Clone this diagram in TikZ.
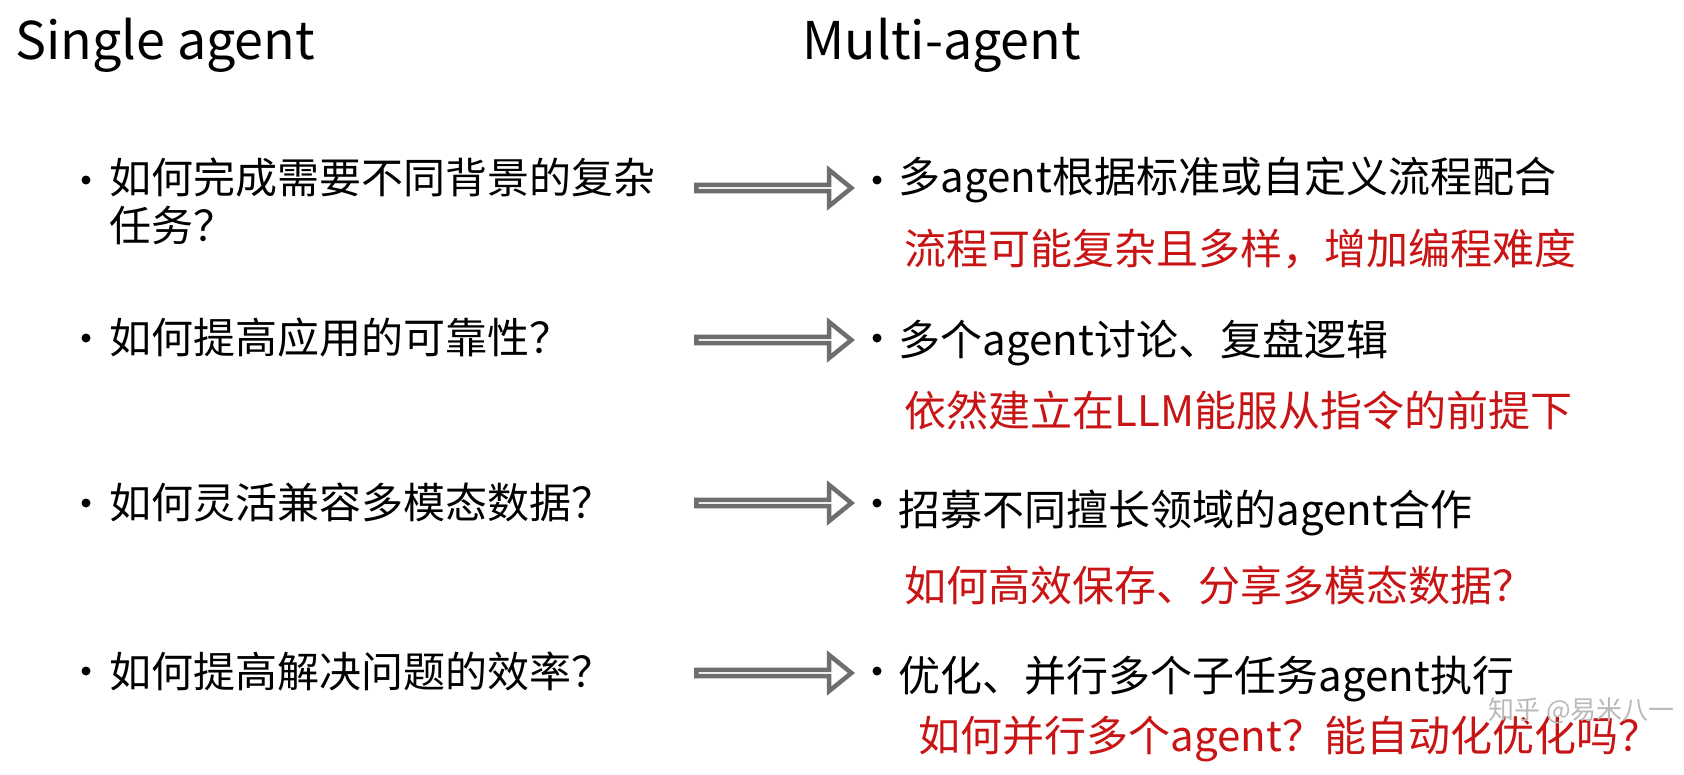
\documentclass[tikz,border=0pt]{standalone}
\usepackage{fontspec}
\setmainfont{Noto Sans CJK SC}
\usetikzlibrary{shapes.arrows}
\definecolor{redtxt}{RGB}{200,20,20}
\definecolor{arrgray}{RGB}{110,110,110}
\begin{document}
\begin{tikzpicture}[x=1pt,y=-1pt,
  title/.style={anchor=west,font=\fontsize{52}{56}\selectfont},
  item/.style={anchor=west,font=\fontsize{42}{48}\selectfont,align=left},
  note/.style={anchor=west,font=\fontsize{42}{48}\selectfont,text=redtxt},
  dot/.style={circle,fill=black,inner sep=0pt,minimum size=9pt},
  bigarrow/.style={draw=arrgray,line width=4.5pt,fill=white,single arrow,single arrow head extend=11pt,single arrow tip angle=78,minimum height=155pt,minimum width=36pt,inner sep=0pt}]
\useasboundingbox (0,0) rectangle (1684,774);
\node[title] (t1) at (12,45) {Single agent};
\node[title] (t2) at (799,45) {Multi-agent};
\foreach \y/\n in {180/a,338/b,503/c,671/d}{
  \node[dot] (l\n) at (86,\y) {};
  \node[dot] (r\n) at (877,\y) {};
}
\node[item,anchor=north west] (q1) at (106,154) {如何完成需要不同背景的复杂\\任务？};
\node[item] (q2) at (106,338) {如何提高应用的可靠性？};
\node[item] (q3) at (106,503) {如何灵活兼容多模态数据？};
\node[item] (q4) at (106,671) {如何提高解决问题的效率？};
\node[item] (a1) at (895,180) {多agent根据标准或自定义流程配合};
\node[item] (a2) at (895,343) {多个agent讨论、复盘逻辑};
\node[item] (a3) at (895,513) {招募不同擅长领域的agent合作};
\node[item] (a4) at (895,679) {优化、并行多个子任务agent执行};
\node[note] (n1) at (901,249) {流程可能复杂且多样，增加编程难度};
\node[note] (n2) at (901,410) {依然建立在LLM能服从指令的前提下};
\node[note] (n3) at (901,585) {如何高效保存、分享多模态数据？};
\node[note] (n4) at (915,739) {如何并行多个agent？能自动化优化吗？};
\foreach \y in {188,340,503,673}{
  \node[bigarrow] at (772,\y) {};
}
\node[anchor=west,text=gray!55,font=\fontsize{26}{30}\selectfont,inner sep=0pt] (wm) at (1488,711) {知乎 @易米八一};
\end{tikzpicture}
\end{document}
